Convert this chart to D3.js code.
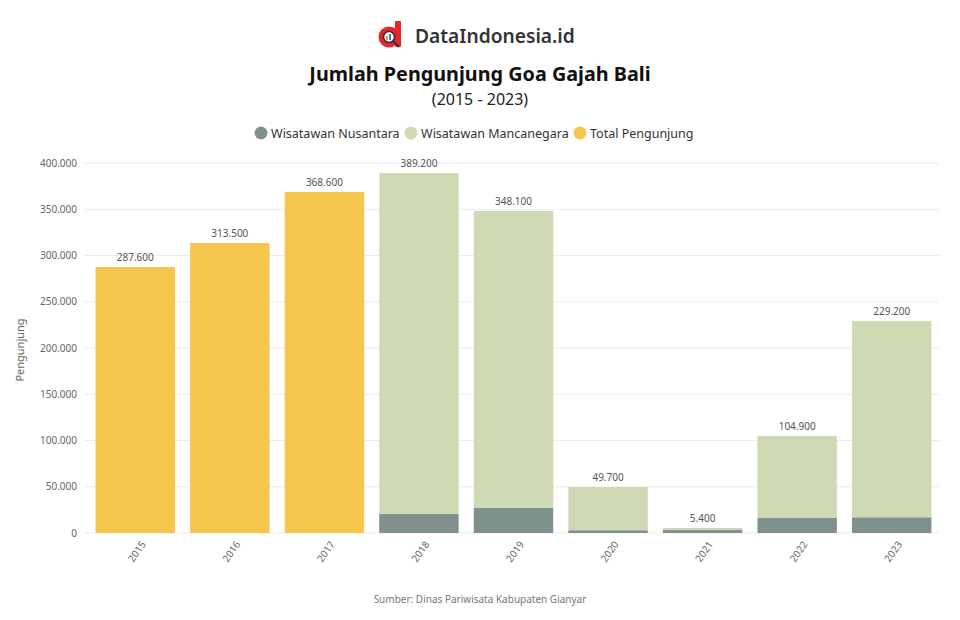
<!DOCTYPE html>
<html>
<head>
<meta charset="utf-8">
<script src="https://cdn.jsdelivr.net/npm/d3@7"></script>
<style>
  body { margin: 0; background: #fff; }
  svg { display: block; font-family: "Noto Sans", "Open Sans", sans-serif; }
</style>
</head>
<body>
<svg id="chart" width="960" height="620"></svg>
<script>
const years = ["2015", "2016", "2017", "2018", "2019", "2020", "2021", "2022", "2023"];
const totalPengunjung = [287600, 313500, 368600, null, null, null, null, null, null];
const wisNusantara = [null, null, null, 20500, 27000, 3000, 3200, 16200, 17000];
const wisMancanegara = [null, null, null, 368700, 321100, 46700, 2200, 88700, 212200];
const yTicks = [0, 50000, 100000, 150000, 200000, 250000, 300000, 350000, 400000];
const seriesNames = ["Wisatawan Nusantara", "Wisatawan Mancanegara", "Total Pengunjung"];
const seriesColors = ["#7f918c", "#cfdab5", "#f5c54e"];

const svg = d3.select("#chart");
const W = 960, H = 620;
const margin = { left: 88, right: 21, top: 163, bottom: 87 };
const fmt = d3.formatLocale({ decimal: ",", thousands: ".", grouping: [3], currency: ["Rp", ""] }).format(",d");

// Header
const logo = svg.append("g");
logo.append("circle").attr("cx", 389).attr("cy", 37).attr("r", 10.5).attr("fill", "#e5262b");
logo.append("rect").attr("x", 395).attr("y", 21).attr("width", 6).attr("height", 26).attr("rx", 1).attr("fill", "#e5262b");
logo.append("circle").attr("cx", 389).attr("cy", 37).attr("r", 5.5).attr("fill", "#fff").attr("stroke", "#333").attr("stroke-width", 1.6);
logo.append("line").attr("x1", 393).attr("y1", 41).attr("x2", 399).attr("y2", 47).attr("stroke", "#333").attr("stroke-width", 2.2);
logo.append("rect").attr("x", 386).attr("y", 36).attr("width", 2).attr("height", 4).attr("fill", "#f5a623");
logo.append("rect").attr("x", 389).attr("y", 34).attr("width", 2).attr("height", 6).attr("fill", "#3a7bd5");
svg.append("text").attr("x", 415).attr("y", 42.5).attr("font-size", 19.2).attr("font-weight", 600)
  .attr("fill", "#333").text("DataIndonesia.id");

svg.append("text").attr("x", 480).attr("y", 81).attr("text-anchor", "middle")
  .attr("font-size", 19.8).attr("font-weight", 700).attr("fill", "#111")
  .text("Jumlah Pengunjung Goa Gajah Bali");
svg.append("text").attr("x", 480).attr("y", 105).attr("text-anchor", "middle")
  .attr("font-size", 16).attr("fill", "#222").text("(2015 - 2023)");

// Legend
const legendX = [261, 411, 580];
const legend = svg.append("g");
seriesNames.forEach((n, i) => {
  legend.append("circle").attr("cx", legendX[i]).attr("cy", 133).attr("r", 6.5).attr("fill", seriesColors[i]);
  legend.append("text").attr("x", legendX[i] + 10).attr("y", 137.5).attr("font-size", 12.5)
    .attr("fill", "#333").text(n);
});

// Scales
const x = d3.scaleBand().domain(years).range([margin.left, W - margin.right]).paddingInner(0.16).paddingOuter(0.08);
const y = d3.scaleLinear().domain([0, 400000]).range([H - margin.bottom, margin.top]);

// Gridlines
const plot = svg.append("g");
plot.append("g").selectAll("line").data(yTicks).join("line")
  .attr("x1", margin.left - 4).attr("x2", W - margin.right)
  .attr("y1", d => y(d)).attr("y2", d => y(d))
  .attr("stroke", "#ececec").attr("stroke-width", 1);

// Y axis
const yAxis = plot.append("g").attr("transform", `translate(${margin.left - 8},0)`)
  .call(d3.axisLeft(y).tickValues(yTicks).tickFormat(fmt).tickSize(0));
yAxis.select(".domain").remove();
yAxis.selectAll("text").attr("font-size", 10).attr("fill", "#666").attr("font-family", "Noto Sans, sans-serif");

plot.append("text").attr("transform", `translate(24,${(y(0) + y(400000)) / 2 + 2}) rotate(-90)`)
  .attr("text-anchor", "middle").attr("font-size", 11).attr("fill", "#666").text("Pengunjung");

// Bars
const rows = years.map((yr, i) => ({ yr, t: totalPengunjung[i], n: wisNusantara[i], m: wisMancanegara[i] }));
const bars = plot.append("g");
rows.forEach(r => {
  const bx = x(r.yr), bw = x.bandwidth();
  if (r.t != null) {
    bars.append("rect").attr("x", bx).attr("width", bw).attr("y", y(r.t)).attr("height", y(0) - y(r.t)).attr("fill", seriesColors[2]);
  } else {
    bars.append("rect").attr("x", bx).attr("width", bw).attr("y", y(r.n)).attr("height", y(0) - y(r.n)).attr("fill", seriesColors[0]);
    bars.append("rect").attr("x", bx).attr("width", bw).attr("y", y(r.n + r.m)).attr("height", y(r.n) - y(r.n + r.m)).attr("fill", seriesColors[1]);
  }
});

// Value labels
plot.append("g").selectAll("text").data(rows).join("text")
  .attr("x", d => x(d.yr) + x.bandwidth() / 2)
  .attr("y", d => y(d.t != null ? d.t : d.n + d.m) - 6)
  .attr("text-anchor", "middle").attr("font-size", 10).attr("fill", "#555")
  .text(d => fmt(d.t != null ? d.t : d.n + d.m));

// X axis
const xAxis = plot.append("g").attr("transform", `translate(0,${y(0) + 6})`)
  .call(d3.axisBottom(x).tickSize(0));
xAxis.select(".domain").remove();
xAxis.selectAll("text").attr("font-size", 10).attr("fill", "#666").attr("font-family", "Noto Sans, sans-serif")
  .attr("text-anchor", "end").attr("dx", "0.2em").attr("dy", "0.9em")
  .attr("transform", "rotate(-55)");

// Source
svg.append("text").attr("x", 480).attr("y", 603).attr("text-anchor", "middle")
  .attr("font-size", 10).attr("fill", "#777").text("Sumber: Dinas Pariwisata Kabupaten Gianyar");
</script>
</body>
</html>
